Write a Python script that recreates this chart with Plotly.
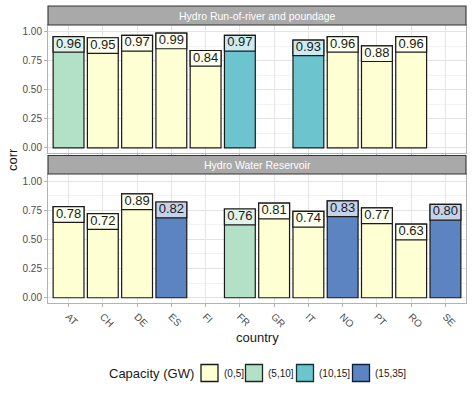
import plotly.graph_objects as go

countries = ["AT", "CH", "DE", "ES", "FI", "FR", "GR", "IT", "NO", "PT", "RO", "SE"]
classes = ["(0,5]", "(5,10]", "(10,15]", "(15,35]"]

ror_country = ["AT", "CH", "DE", "ES", "FI", "FR", "IT", "NO", "PT", "RO"]
ror_corr = [0.96, 0.95, 0.97, 0.99, 0.84, 0.97, 0.93, 0.96, 0.88, 0.96]
ror_cap = ["(5,10]", "(0,5]", "(0,5]", "(0,5]", "(0,5]", "(10,15]", "(10,15]", "(0,5]", "(0,5]", "(0,5]"]

res_country = ["AT", "CH", "DE", "ES", "FR", "GR", "IT", "NO", "PT", "RO", "SE"]
res_corr = [0.78, 0.72, 0.89, 0.82, 0.76, 0.81, 0.74, 0.83, 0.77, 0.63, 0.80]
res_cap = ["(0,5]", "(0,5]", "(0,5]", "(15,35]", "(5,10]", "(0,5]", "(0,5]", "(15,35]", "(0,5]", "(0,5]", "(15,35]"]

panel_titles = ["Hydro Run-of-river and poundage", "Hydro Water Reservoir"]
legend_title = "Capacity (GW)"

bar_colors = {"(0,5]": "#FFFFD4", "(5,10]": "#B2E1C8", "(10,15]": "#6CC4CE", "(15,35]": "#5B84C0"}
label_colors = {"(0,5]": "#FFFFF0", "(5,10]": "#E1F3E9", "(10,15]": "#CCEBEE", "(15,35]": "#C6D2E7"}
key_borders = {"(0,5]": "#1a1a1a", "(5,10]": "#1a2a22", "(10,15]": "#10303a", "(15,35]": "#102040"}
LABEL_H = 0.135

W, H = 474, 394
TOP, BOT = 6, 303
LEFT, RIGHT = 48, 466
PH = BOT - TOP
PW = RIGHT - LEFT


def py(px):
    return (BOT - px) / PH


def pxx(px):
    return (px - LEFT) / PW


fig = go.Figure()

panels = [(ror_country, ror_corr, ror_cap), (res_country, res_corr, res_cap)]
for pi, (cs, vals, caps) in enumerate(panels):
    xa = "x" if pi == 0 else "x2"
    ya = "y" if pi == 0 else "y2"
    for cl in classes:
        xs = [c for c, k in zip(cs, caps) if k == cl]
        ys = [v for v, k in zip(vals, caps) if k == cl]
        if not xs:
            continue
        fig.add_trace(go.Bar(
            x=xs, y=ys, width=0.9,
            marker=dict(color=bar_colors[cl], line=dict(color="#1a1a1a", width=1.2)),
            name=cl, legendgroup=cl, showlegend=False,
            xaxis=xa, yaxis=ya, hoverinfo="skip"))
    for cl in classes:
        xs = [c for c, k in zip(cs, caps) if k == cl]
        ys = [v for v, k in zip(vals, caps) if k == cl]
        if not xs:
            continue
        fig.add_trace(go.Bar(
            x=xs, y=[LABEL_H] * len(xs), base=[v - LABEL_H for v in ys], width=0.9,
            marker=dict(color=label_colors[cl], line=dict(color="#1a1a1a", width=1.2)),
            showlegend=False, xaxis=xa, yaxis=ya, hoverinfo="skip"))
    fig.add_trace(go.Scatter(
        x=cs, y=[v - LABEL_H / 2 for v in vals], mode="text",
        text=[f"{v:.2f}" for v in vals],
        textfont=dict(size=13, color="#1a1a1a", family="Liberation Sans"),
        showlegend=False, xaxis=xa, yaxis=ya, hoverinfo="skip"))

yrange = [-0.045, 1.06]
common_x = dict(type="category", categoryorder="array", categoryarray=countries,
                range=[-0.6, 11.6], showgrid=True, gridcolor="#E6E6E6", gridwidth=1,
                ticks="outside", ticklen=3, tickcolor="#B3B3B3",
                showline=True, linecolor="#B3B3B3", mirror=True, zeroline=False,
                automargin=False,
                tickfont=dict(size=10, color="#4D4D4D", family="Liberation Sans"))
common_y = dict(range=yrange, tickvals=[0, 0.25, 0.5, 0.75, 1.0],
                ticktext=["0.00", "0.25", "0.50", "0.75", "1.00"],
                showgrid=True, gridcolor="#E3E3E3", gridwidth=1,
                minor=dict(showgrid=True, tickvals=[0.125, 0.375, 0.625, 0.875], gridcolor="#F2F2F2", gridwidth=0.6),
                ticks="outside", ticklen=3, tickcolor="#B3B3B3",
                showline=True, linecolor="#B3B3B3", mirror=True, zeroline=False,
                automargin=False,
                tickfont=dict(size=10, color="#4D4D4D", family="Liberation Sans"))

fig.update_layout(
    width=W, height=H,
    margin=dict(l=LEFT, r=W - RIGHT, t=TOP, b=H - BOT),
    paper_bgcolor="white", plot_bgcolor="white",
    barmode="overlay",
    showlegend=False,
    font=dict(family="Liberation Sans", color="#1a1a1a"),
    xaxis=dict(common_x, domain=[0, 1], anchor="y", showticklabels=False),
    yaxis=dict(common_y, domain=[py(153), py(25)], anchor="x"),
    xaxis2=dict(common_x, domain=[0, 1], anchor="y2", tickangle=45),
    yaxis2=dict(common_y, domain=[0, py(174)], anchor="x2"),
)

# strips
for (y0, y1), title in zip([(25, 6), (174, 155.5)], panel_titles):
    fig.add_shape(type="rect", xref="paper", yref="paper", x0=0, x1=1, y0=py(y0), y1=py(y1),
                  fillcolor="#A9A9A9", line=dict(color="#333333", width=1.1), layer="above")
    fig.add_annotation(text=title, xref="paper", yref="paper", x=0.5, y=(py(y0) + py(y1)) / 2,
                       showarrow=False, font=dict(size=10.5, color="white"), yanchor="middle")

fig.add_annotation(text="corr", xref="paper", yref="paper", x=pxx(12), y=py(160),
                   textangle=-90, showarrow=False, font=dict(size=13, color="#1a1a1a"),
                   xanchor="center", yanchor="middle")
fig.add_annotation(text="country", xref="paper", yref="paper", x=0.5, y=py(337),
                   showarrow=False, font=dict(size=13, color="#1a1a1a"),
                   xanchor="center", yanchor="middle")

# legend (guide) drawn as keys + labels
LEG_Y = 373
fig.add_annotation(text=legend_title, xref="paper", yref="paper", x=pxx(196), y=py(LEG_Y),
                   showarrow=False, font=dict(size=13, color="#1a1a1a"),
                   xanchor="right", yanchor="middle")
key_x = [201, 245.5, 296.5, 352.5]
for kx, cl in zip(key_x, classes):
    fig.add_shape(type="rect", xref="paper", yref="paper",
                  x0=pxx(kx), x1=pxx(kx + 17), y0=py(LEG_Y + 8.5), y1=py(LEG_Y - 8.5),
                  fillcolor=bar_colors[cl], line=dict(color=key_borders[cl], width=1.3))
    fig.add_annotation(text=cl, xref="paper", yref="paper", x=pxx(kx + 20.5), y=py(LEG_Y),
                       showarrow=False, font=dict(size=10, color="#1a1a1a"),
                       xanchor="left", yanchor="middle")

fig.write_html("out.html", config={"displayModeBar": False},
               post_script="document.body.style.margin='0px';")
